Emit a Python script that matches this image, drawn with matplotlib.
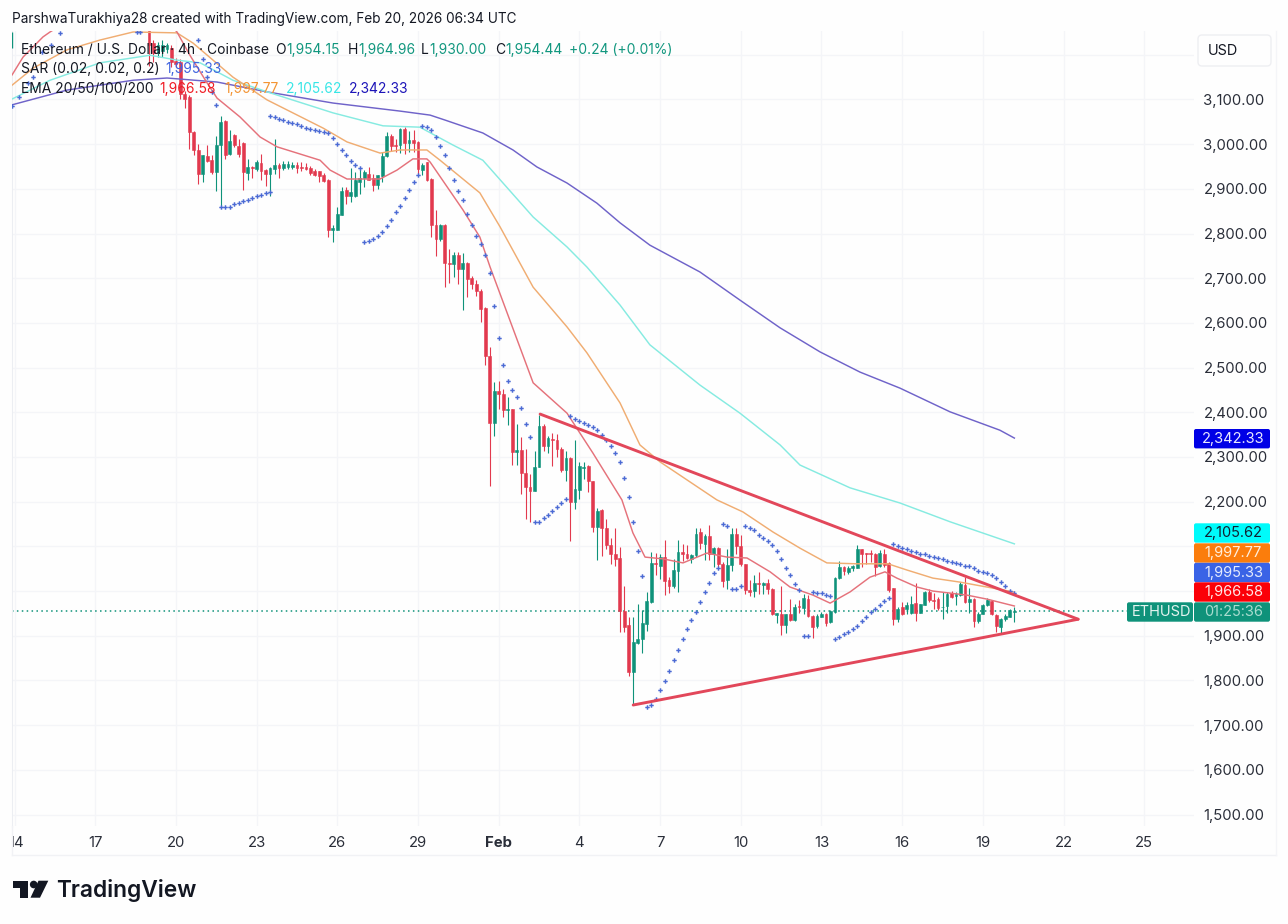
import numpy as np
import matplotlib
matplotlib.use('Agg')
import matplotlib.pyplot as plt
from matplotlib.patches import FancyBboxPatch, Polygon, Circle
from matplotlib.transforms import Bbox, IdentityTransform, TransformedBbox, ScaledTranslation

plt.rcParams['font.family'] = ['Inter', 'DejaVu Sans']

# 4h candles, oldest first, last one is Feb 20 04:00 (days counted from Jan 14)
last_day = 37 + 1 / 6
opens = [3290,3226,3203,3209,3214,3216,3186,3184,3113,3105,
         3027,2987,2933,2973,2965,2937,2997,3051,2977,3021,
         2995,3002,2936,2950,2945,2958,2943,2933,2945,2954,
         2946,2948,2948,2954,2950,2950,2946,2939,2939,2931,
         2920,2807,2809,2842,2898,2885,2883,2915,2924,2933,
         2925,2909,2928,2973,3018,2997,2997,3034,3002,3010,
         3004,2943,2960,2922,2818,2788,2818,2734,2732,2751,
         2721,2734,2700,2687,2672,2634,2526,2376,2447,2440,
         2406,2407,2311,2316,2264,2232,2223,2277,2369,2324,
         2341,2339,2318,2270,2298,2199,2227,2276,2279,2247,
         2144,2181,2140,2103,2083,2074,1955,1923,1818,1883,
         1893,1927,1975,2062,2057,2076,2024,2012,2046,2087,
         2083,2072,2080,2132,2105,2123,2084,2096,2061,2024,
         2058,2128,2100,2061,2003,2000,2019,2014,2019,2005,
         1946,1948,1925,1948,1936,1966,1963,1983,1944,1921,
         1942,1949,1931,1953,2030,2053,2042,2052,2052,2094,
         2085,2085,2083,2055,2083,2063,2007,1937,1964,1960,
         1951,1973,1951,1968,1998,1981,1983,1964,1966,1996,
         1990,1992,2014,1975,1983,1933,1948,1968,1977,1946,
         1919,1937,1943,1954.15]
highs = [3300,3233,3229,3233,3227,3221,3192,3190,3120,3110,
         3030,3001,2976,2997,2975,3019,3064,3055,3032,3023,
         3012,3004,2967,2952,2965,2978,2945,2948,3012,2957,
         2962,2962,2960,2961,2961,2957,2952,2945,2941,2935,
         2922,2819,2860,2904,2904,2946,2937,2945,2942,2948,
         2933,2931,2982,3027,3023,3012,3036,3038,3030,3032,
         3008,2957,2960,2925,2853,2822,2822,2766,2758,2758,
         2756,2736,2706,2695,2676,2635,2546,2467,2471,2452,
         2434,2408,2374,2344,2318,2262,2313,2393,2374,2348,
         2353,2352,2322,2313,2300,2339,2288,2288,2281,2247,
         2186,2184,2161,2119,2142,2099,2012,1942,1942,1970,
         1958,1997,2087,2085,2083,2115,2031,2072,2115,2106,
         2102,2083,2140,2140,2128,2147,2099,2099,2065,2095,
         2140,2140,2125,2061,2025,2037,2043,2020,2028,2006,
         1950,2011,1949,1983,1972,1979,1994,1992,1946,1949,
         1953,1951,1957,2031,2068,2055,2055,2059,2103,2094,
         2085,2091,2085,2091,2094,2065,2007,1964,1975,1975,
         1990,2018,1972,2000,2005,1995,1987,1998,1998,2001,
         1998,2020,2031,2007,1985,1953,1972,1984,1979,1948,
         1940,1949,1960,1964.96]
lows = [3176,3183,3194,3195,3203,3173,3172,3102,3080,2990,
        2975,2910,2915,2960,2933,2896,2860,2966,2975,2993,
        2972,2898,2919,2925,2941,2920,2907,2885,2933,2925,
        2943,2945,2945,2936,2941,2943,2930,2928,2915,2915,
        2792,2781,2809,2842,2866,2870,2881,2889,2904,2919,
        2895,2900,2915,2971,2984,2982,2980,2978,2982,2982,
        2933,2930,2917,2792,2749,2784,2680,2690,2702,2687,
        2630,2658,2676,2660,2602,2505,2236,2348,2408,2389,
        2372,2282,2281,2217,2162,2154,2223,2277,2314,2308,
        2279,2300,2266,2247,2113,2184,2206,2251,2221,2132,
        2069,2079,2094,2060,2055,1908,1908,1811,1744,1882,
        1862,1910,1974,2037,2027,1991,1996,2007,1997,2068,
        2072,2063,2076,2095,2070,2069,2054,2054,2009,2005,
        2046,2084,2057,1994,1990,1987,1994,1994,1994,1946,
        1929,1901,1906,1934,1934,1952,1949,1942,1895,1918,
        1942,1921,1928,1950,2027,2035,2039,2044,2052,2053,
        2061,2065,2033,2053,2053,1998,1925,1931,1946,1949,
        1949,1934,1951,1968,1975,1960,1958,1938,1951,1985,
        1968,1990,1973,1951,1919,1928,1948,1966,1946,1908,
        1904,1934,1942,1930]
closes = [3222,3204,3221,3221,3221,3184,3180,3113,3102,3027,
          2987,2933,2975,2962,2937,2997,3049,2975,3008,2997,
          2978,2937,2948,2947,2960,2941,2933,2946,2954,2947,
          2956,2956,2954,2947,2946,2945,2935,2932,2928,2917,
          2807,2812,2844,2896,2885,2892,2919,2925,2937,2920,
          2909,2930,2973,3018,2995,2995,3033,3002,3010,3003,
          2945,2954,2920,2818,2788,2818,2734,2732,2752,2721,
          2734,2699,2687,2672,2631,2526,2376,2447,2440,2406,
          2408,2311,2316,2264,2232,2223,2277,2369,2324,2342,
          2338,2317,2270,2298,2199,2229,2279,2278,2247,2144,
          2180,2140,2102,2083,2072,1955,1919,1818,1886,1893,
          1928,1977,2062,2061,2077,2022,2012,2047,2087,2083,
          2074,2080,2128,2108,2123,2082,2096,2060,2022,2058,
          2128,2101,2061,2002,1998,2019,2016,2019,2005,1948,
          1950,1925,1948,1936,1964,1964,1984,1944,1919,1944,
          1949,1928,1955,2030,2053,2044,2052,2055,2094,2083,
          2084,2083,2053,2085,2059,2003,1937,1960,1949,1968,
          1972,1951,1972,1998,1979,1978,1963,1965,1994,1987,
          1994,2016,1975,1983,1932,1949,1968,1981,1948,1921,
          1938,1944,1957,1954.44]

# EMAs as (day, price)
ema20_days = [-0.09,0.32,1.06,1.32,3.18,5.0,6.04,6.52,7.16,7.53,8.38,9.13,9.76,11.36,11.73,12.36,13.59,14.22,14.81,15.33,15.45,16.67,17.3,17.68,19.28,20.54,21.5,22.58,22.99,23.44,24.11,24.85,25.74,26.49,27.23,28.09,28.83,29.68,30.32,31.06,31.8,32.36,32.8,33.55,34.14,35.4,36.15,37.17]
ema20_vals = [3155,3195,3240,3251,3320,3320,3251,3199,3137,3103,3061,3016,2994,2964,2942,2922,2922,2942,2967,2967,2960,2853,2792,2725,2466,2398,2309,2204,2130,2076,2072,2063,2085,2076,2074,2043,2009,1991,1973,1998,2031,2043,2029,2009,2000,1991,1982,1966.58]
ema50_days = [-0.09,0.69,1.95,3.18,4.41,6.04,6.64,8.12,9.39,11.47,12.36,13.59,14.33,15.33,15.82,17.3,18.05,19.28,20.54,21.28,22.51,23.25,24.0,26.11,27.08,28.2,29.2,30.2,31.32,32.47,33.18,34.14,35.15,36.15,37.17]
ema50_vals = [3132,3170,3211,3233,3251,3249,3226,3150,3099,3036,3005,2980,2987,2987,2964,2891,2815,2680,2591,2533,2421,2327,2289,2204,2177,2132,2096,2063,2061,2061,2047,2029,2020,2009,1997.77]
ema100_days = [-0.09,1.32,3.18,5.04,6.04,6.9,8.12,9.39,11.84,13.7,15.07,16.3,17.41,19.28,20.54,21.28,22.51,23.62,25.48,26.97,28.46,29.2,31.06,32.92,34.78,37.17]
ema100_vals = [3101,3143,3182,3199,3188,3182,3143,3117,3070,3041,3038,2998,2964,2837,2770,2725,2640,2551,2461,2398,2327,2282,2231,2197,2155,2105.62]
ema200_days = [-0.09,1.95,4.41,5.67,7.53,9.39,11.84,14.33,15.45,16.0,17.41,18.53,19.42,20.54,21.65,22.51,23.62,25.48,26.97,28.46,29.95,31.43,32.92,34.78,36.63,37.17]
ema200_vals = [3088,3121,3143,3148,3139,3117,3092,3074,3065,3054,3025,2987,2949,2913,2868,2824,2774,2714,2651,2589,2535,2490,2454,2401,2360,2342.33]

# parabolic SAR runs: first bar's day, then one value per bar
sar_runs = [
    (6.833, [3233,3191,3150,3117,3087]),
    (7.667, [2860,2860,2860,2865,2868,2872,2876,2880,2884,2886,2890,2892]),
    (9.5, [3064,3060,3057,3053,3049,3047,3044,3040,3036,3034,3032,3029,3027,3024,3013,3001,2987,2975,2963,2954,2946]),
    (13.0, [2780,2783,2787,2794,2803,2816,2831,2848,2862,2879,2898,2915,2931]),
    (15.167, [3040,3038,3032,3017,2995,2976,2946,2920,2896,2874,2844,2819,2795,2777,2752,2712,2637,2566,2506,2471,2449,2434,2409,2374,2344]),
    (19.333, [2154,2154,2163,2171,2180,2189,2197,2206]),
    (20.667, [2392,2386,2381,2376,2372,2366,2360,2349,2338,2325,2310,2289,2252,2211,2155,2089,2033]),
    (23.5, [1740,1745,1759,1779,1798,1822,1846,1868,1892,1915,1936,1953,1975,1999,2018,2040,2052]),
    (26.333, [2149,2145]),
    (26.667, [2004,2004,2011]),
    (27.167, [2145,2142,2136,2126,2119,2111,2102,2090,2072,2052,2035,2016,2003]),
    (29.333, [1899,1899]),
    (29.667, [1997,1996,1995,1992,1990]),
    (30.5, [1893,1898,1903,1908,1915,1922,1934,1943,1954,1960,1968,1977,1984]),
    (32.667, [2105,2101,2097,2093,2090,2088,2084,2082,2079,2077,2074,2071,2068,2064,2062,2060,2057,2055,2051,2046,2043,2040,2035,2030,2021,2011,2001,1995.33]),
]
sar_left_days = [-0.09,0.17,0.5,0.69,1.02,1.36,1.69,4.55,4.67]
sar_left_vals = [3085,3105,3137,3150,3206,3222,3249,3251,3251]

# hand drawn triangle
upper_days = [19.54, 39.54]
upper_vals = [2396, 1937]
lower_days = [23.0, 39.54]
lower_vals = [1745, 1937]

price_ticks = list(range(1500, 3300, 100))
hidden_ticks = [2000, 2100, 3200]
date_ticks = list(range(0, 45, 3))
date_labels = ['14','17','20','23','26','29','Feb','4','7','10','13','16','19','22','25']
last_price = 1954.44

UP = '#0f927a'
DOWN = '#e2394e'
GRID = '#f4f5f8'
SAR = '#4b6ad4'
W, H = 1288, 924
L, R, T, B = 12, 1194, 31, 826

fig = plt.figure(figsize=(W / 100, H / 100), dpi=100, facecolor='#fefefe')
ax = fig.add_axes([L / W, 1 - B / H, (R - L) / W, (B - T) / H])
ax.set_facecolor('#fefefe')
ax.set_xlim((L - 14.5) / 26.9, (R - 14.5) / 26.9)
ax.set_ylim(1474.3, 3253.2)
for s in ax.spines.values():
    s.set_visible(False)
ax.spines['left'].set_visible(True)
ax.spines['left'].set_color('#eceef2')

ax.set_axisbelow(True)
ax.grid(True, color=GRID, lw=1.0)
ax.yaxis.tick_right()
ax.set_yticks(price_ticks)
ax.set_yticklabels(['' if p in hidden_ticks else f'{p:,.2f}' for p in price_ticks])
ax.set_xticks(date_ticks)
ax.set_xticklabels(date_labels)
ax.tick_params(axis='y', length=0, pad=6.8, labelsize=10.7, labelcolor='#2a2e39')
ax.tick_params(axis='x', length=0, pad=7, labelsize=10.7, labelcolor='#2a2e39')
for lab in ax.get_xticklabels():
    if lab.get_text() == 'Feb':
        lab.set_fontweight('bold')
# the 14 is cut by the left edge of the chart
first = ax.get_xticklabels()[0]
first.set_transform(first.get_transform() + ScaledTranslation(1.5 / 100, 0, fig.dpi_scale_trans))
first.set_clip_on(True)
first.set_clip_box(TransformedBbox(Bbox([[L, 0], [W, H]]), IdentityTransform()))

n = len(closes)
days = last_day - np.arange(n)[::-1] / 6
o, h, l, c = map(np.array, (opens, highs, lows, closes))
cols = np.where(c >= o, UP, DOWN)
ax.vlines(days, l, h, colors=cols, lw=0.8, zorder=3)
ax.bar(days, np.abs(c - o), bottom=np.minimum(o, c), width=0.105, color=cols,
       edgecolor=cols, lw=0.4, zorder=3)
# clipped candle on the left edge
ax.vlines([-0.09], 3215, 3250, colors=UP, lw=1.0, zorder=3)

ax.axhline(last_price, color=UP, lw=1.1, ls=(0, (1, 2.2)), zorder=2)

ax.plot(ema200_days, ema200_vals, color='#6f63c9', lw=1.05, solid_joinstyle='round', zorder=4)
ax.plot(ema100_days, ema100_vals, color='#86ebe1', lw=1.05, solid_joinstyle='round', zorder=4)
ax.plot(ema50_days, ema50_vals, color='#f0ad72', lw=1.05, solid_joinstyle='round', zorder=4)
ax.plot(ema20_days, ema20_vals, color='#e5727b', lw=1.05, solid_joinstyle='round', zorder=4)

ax.plot(sar_left_days, sar_left_vals, ls='', marker='P', ms=3.2, mew=0, color=SAR, zorder=5)
for start, vals in sar_runs:
    xs = start + np.arange(len(vals)) / 6
    ax.plot(xs, vals, ls='', marker='P', ms=3.2, mew=0, color=SAR, zorder=5)

ax.plot(upper_days, upper_vals, color='#e2475a', lw=2.1, solid_capstyle='round', zorder=6)
ax.plot(lower_days, lower_vals, color='#e2475a', lw=2.1, solid_capstyle='round', zorder=6)

# overlay in pixels for the header, legend, tags and logo
ov = fig.add_axes([0, 0, 1, 1], zorder=10)
ov.set_xlim(0, W)
ov.set_ylim(H, 0)
ov.axis('off')


def txt(x, y, s, color='#131722', size=9.95, **kw):
    ov.text(x, y, s, color=color, fontsize=size, va='center', ha=kw.pop('ha', 'left'), **kw)


def tag(x0, x1, y, s, bg, fg):
    ov.add_patch(FancyBboxPatch((x0 + 1, y - 8.7), x1 - x0 - 2, 17.4,
                                boxstyle='round,pad=1,rounding_size=2', fc=bg, ec='none'))
    txt((x0 + x1) / 2 + 1.5, y + 0.3, s, color=fg, size=10.5, ha='center')


txt(12, 18.5, 'ParshwaTurakhiya28 created with TradingView.com, Feb 20, 2026 06:34 UTC', size=9.8)

txt(21, 50, 'Ethereum / U.S. Dollar · 4h · Coinbase')
teal = '#12977f'
txt(275, 50, 'O')
txt(286, 50, '1,954.15', color=teal)
txt(348, 50, 'H')
txt(358.5, 50, '1,964.96', color=teal)
txt(421, 50, 'L')
txt(429, 50, '1,930.00', color=teal)
txt(495, 50, 'C')
txt(505, 50, '1,954.44', color=teal)
txt(569, 50, '+0.24 (+0.01%)', color=teal)
txt(21, 69, 'SAR (0.02, 0.02, 0.2)')
txt(165, 69, '1,995.33', color='#3f63df')
txt(21, 89, 'EMA 20/50/100/200')
txt(159, 89, '1,966.58', color='#f01c25')
txt(224, 89, '1,997.77', color='#f39433')
txt(286, 89, '2,105.62', color='#38e6e6')
txt(349, 89, '2,342.33', color='#1c14b8')

ov.add_patch(FancyBboxPatch((1198, 35), 73, 31, boxstyle='round,pad=0,rounding_size=4',
                            fc='#fefefe', ec='#eeeff2', lw=1))
txt(1208, 51, 'USD', size=10.4)

tag(1194, 1270, 438.7, '2,342.33', '#0000e6', '#e8e8ff')
tag(1194, 1270, 533, '2,105.62', '#00fbfb', '#123')
tag(1194, 1270, 553, '1,997.77', '#fb7d0c', '#ffeedd')
tag(1194, 1270, 572.5, '1,995.33', '#3a63e6', '#e4eafc')
tag(1194, 1270, 592, '1,966.58', '#fb0008', '#ffe6e6')
tag(1194, 1270, 612, '01:25:36', UP, '#a9dccf')
tag(1127, 1193, 612, 'ETHUSD', UP, '#e4f4f0')

# frame lines around the chart
ov.plot([L, 1276], [855, 855], color='#f1f2f5', lw=1)
ov.plot([1276, 1276], [31, 855], color='#f4f5f8', lw=1)
ov.plot([L, L], [826, 855], color='#f1f2f5', lw=1)

# TradingView logo
logo = '#131722'
ov.add_patch(Polygon([(13.3, 880.7), (28.3, 880.7), (28.3, 897.7), (20, 897.7), (20, 888.3), (13.3, 888.3)],
                     fc=logo, ec='none'))
ov.add_patch(Circle((33.7, 884.5), 3.8, fc=logo, ec='none'))
ov.add_patch(Polygon([(38.5, 880.7), (48.3, 880.7), (40, 897.7), (30.5, 897.7)], fc=logo, ec='none'))
txt(56.5, 890, 'TradingView', color=logo, size=16.4, fontweight='semibold')

fig.savefig('out.png', dpi=100, facecolor=fig.get_facecolor())
